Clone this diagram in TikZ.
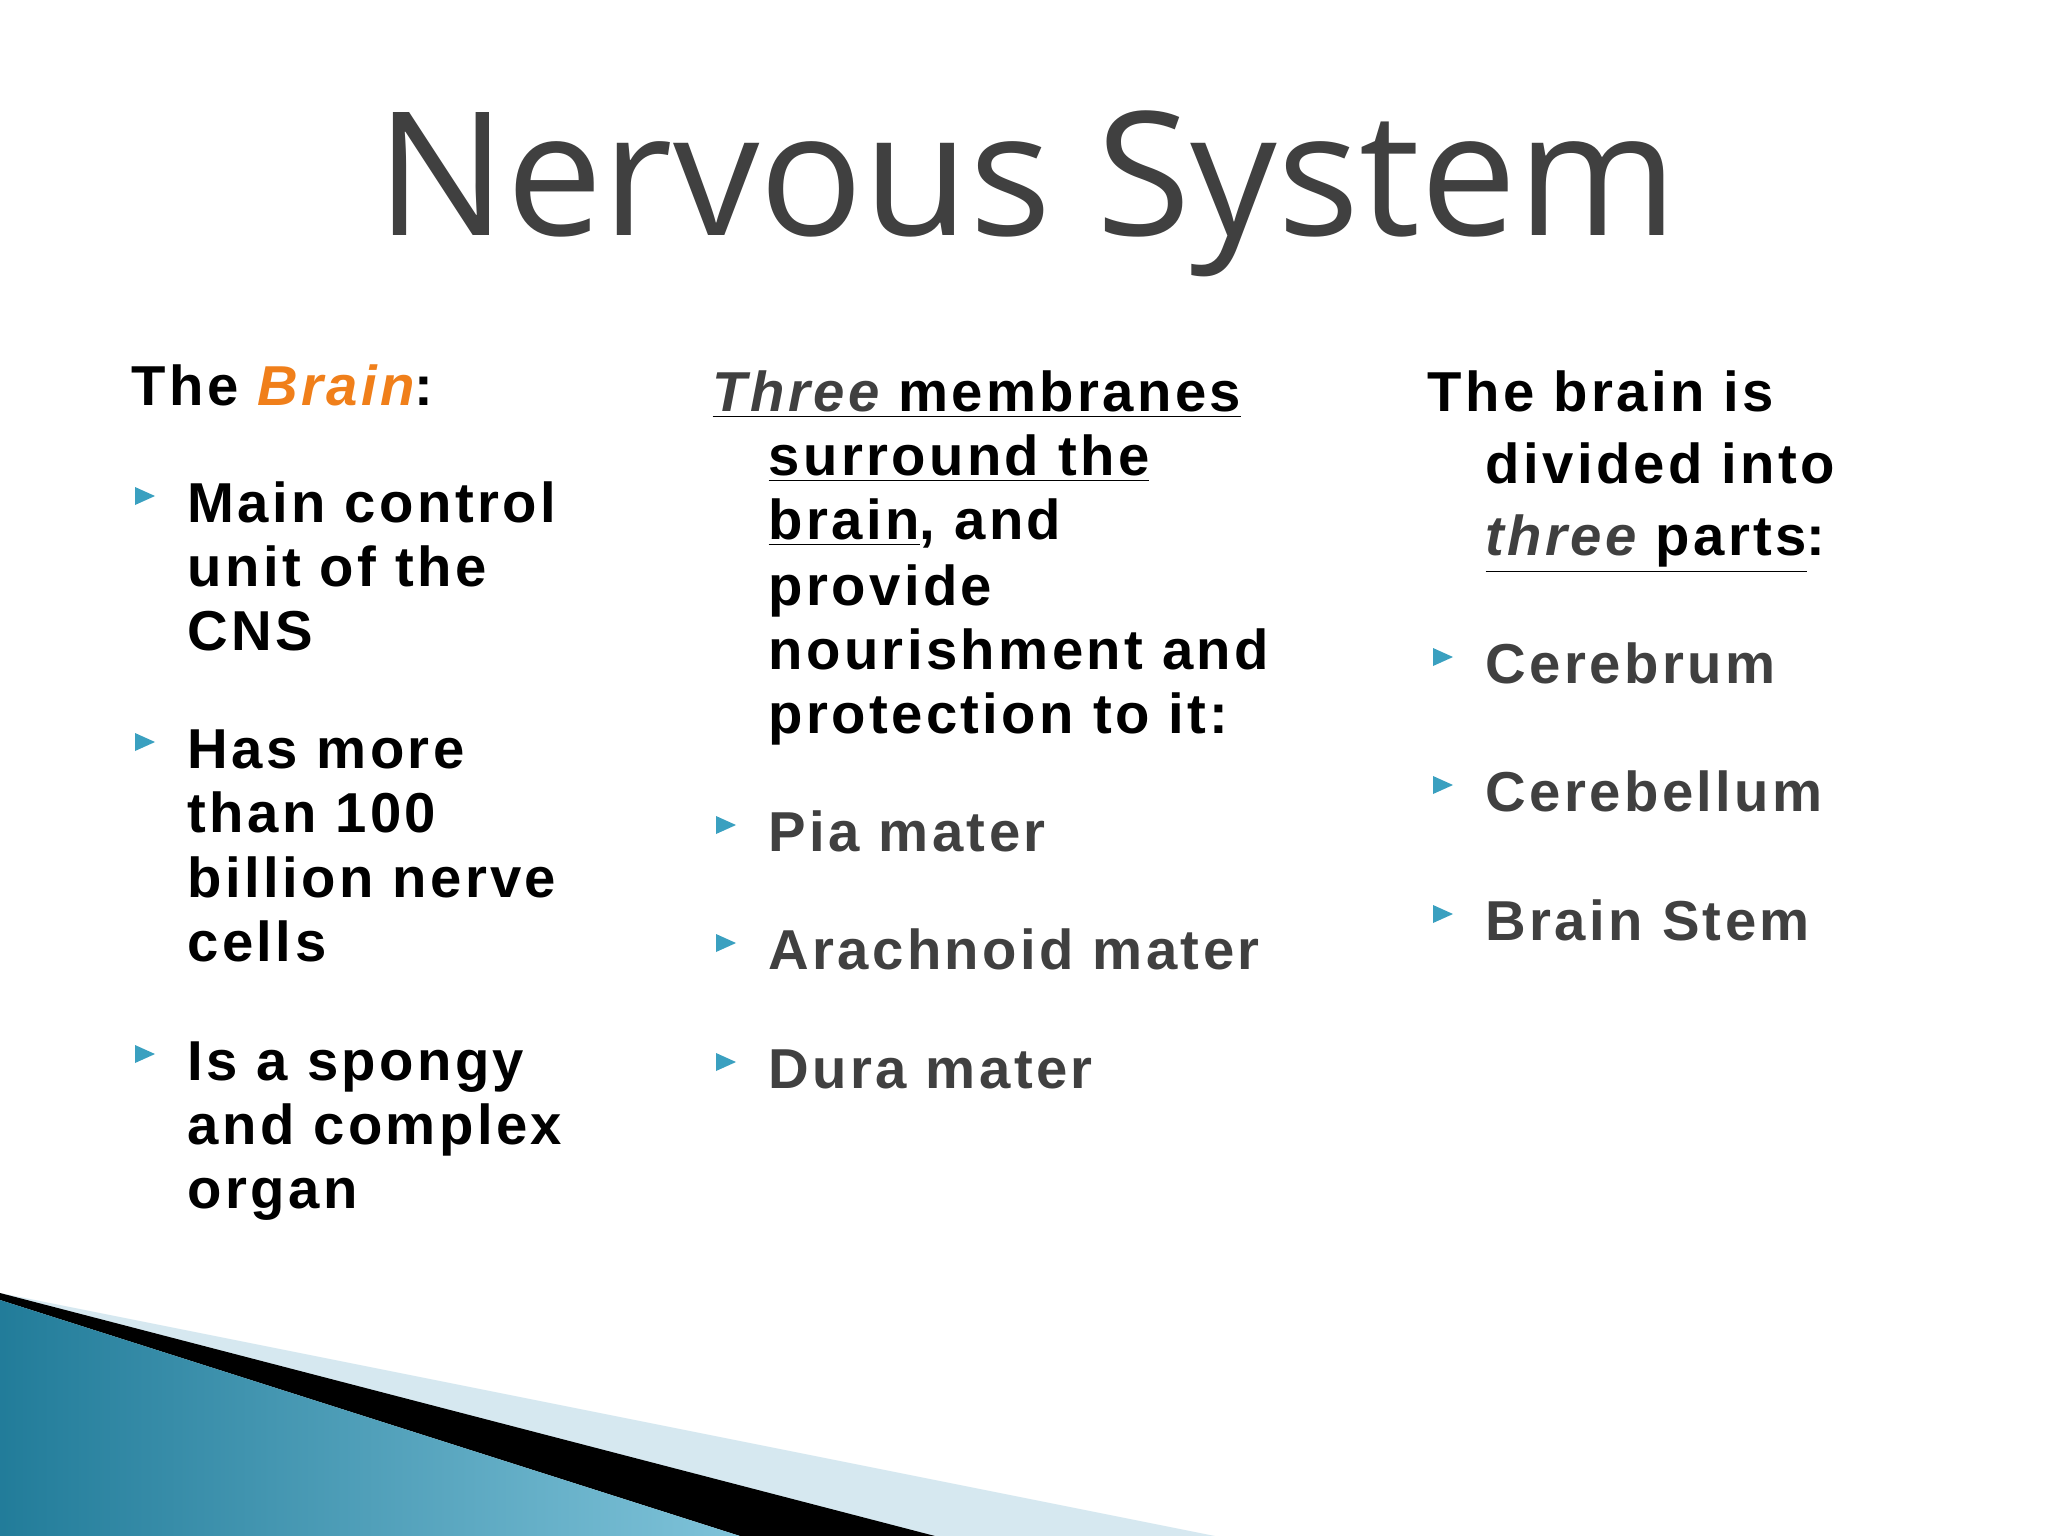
\documentclass[tikz,border=0pt]{standalone}
\usepackage{fontspec}
\setmainfont{Liberation Sans}[LetterSpace=6]
\newfontfamily\titlefont{Open Sans}
\definecolor{teal1}{HTML}{2A9BC0}
\definecolor{bul}{HTML}{3AA0C0}
\definecolor{gtxt}{HTML}{404040}
\definecolor{orng}{HTML}{F07F1A}
\definecolor{lblue}{HTML}{D6E8F0}
\begin{document}
\begin{tikzpicture}[x=0.01cm,y=-0.01cm,
  txt/.style={anchor=base west,inner sep=0pt,font=\fontsize{16}{19}\selectfont\bfseries},
  gitem/.style={txt,text=gtxt},
  bmark/.style={fill=bul,draw=none}]
\useasboundingbox (0,0) rectangle (2048,1536);
\fill[white] (0,0) rectangle (2048,1536);
% decoration
\fill[lblue] (0,1293) -- (1215,1536) -- (900,1536) -- cycle;
\fill[black] (0,1293) -- (935,1536) -- (740,1536) -- (0,1300) -- cycle;
\shade[left color=teal1!80!black, right color=teal1!60!white] (0,1300) -- (740,1536) -- (0,1536) -- cycle;
% title
\node[anchor=base,inner sep=0pt,text=gtxt,font=\titlefont\fontsize{49}{58}\selectfont] (title) at (1027,235) {Nervous System};
% col 1
\node[txt] (c1h) at (131,405) {The \textcolor{orng}{\itshape Brain}:};
\node[txt] (a1) at (187,522) {Main control};
\node[txt] (a2) at (187,586) {unit of the};
\node[txt] (a3) at (187,650) {CNS};
\node[txt] (b1) at (187,768) {Has more};
\node[txt] (b2) at (187,832) {than 100};
\node[txt] (b3) at (187,897) {billion nerve};
\node[txt] (b4) at (187,961) {cells};
\node[txt] (d1) at (187,1080) {Is a spongy};
\node[txt] (d2) at (187,1144) {and complex};
\node[txt] (d3) at (187,1208) {organ};
% col 2
\node[txt] (m1) at (712,411) {\underline{\textcolor{gtxt}{\itshape Three} membranes}};
\node[txt] (m2) at (768,475) {\underline{surround the}};
\node[txt] (m3) at (768,539) {\underline{brain}, and};
\node[txt] (m4) at (768,605) {provide};
\node[txt] (m5) at (768,669) {nourishment and};
\node[txt] (m6) at (768,733) {protection to it:};
\node[gitem] (p1) at (768,851) {Pia mater};
\node[gitem] (p2) at (768,969) {Arachnoid mater};
\node[gitem] (p3) at (768,1088) {Dura mater};
% col 3
\node[txt] (t1) at (1427,411) {The brain is};
\node[txt] (t2) at (1485,483) {divided into};
\node[txt] (t3) at (1485,555) {\underline{\textcolor{gtxt}{\itshape three} parts}:};
\node[gitem] (q1) at (1485,683) {Cerebrum};
\node[gitem] (q2) at (1485,811) {Cerebellum};
\node[gitem] (q3) at (1485,940) {Brain Stem};
% bullets
\foreach \x/\y in {135/487,135/733,135/1045,716/816,716/934,716/1053,1433/648,1433/776,1433/905}
  \fill[bmark] (\x,\y) -- (\x+20,\y+9) -- (\x,\y+18) -- cycle;
\end{tikzpicture}
\end{document}
